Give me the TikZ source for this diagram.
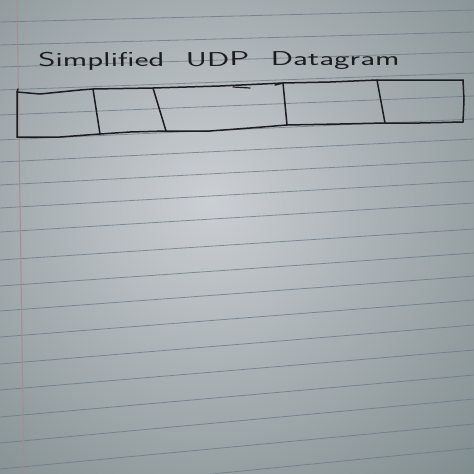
\documentclass[tikz,border=0pt]{standalone}
\usetikzlibrary{positioning}
\definecolor{paperhi}{RGB}{204,207,211}
\definecolor{paperlo}{RGB}{118,132,134}
\definecolor{rule}{RGB}{105,120,132}
\definecolor{margin}{RGB}{170,138,146}
\definecolor{pen}{RGB}{28,28,32}
\tikzset{
  ruling/.style={rule,line width=0.8pt,opacity=0.75},
  penline/.style={pen,line width=1.5pt,line cap=round,line join=round},
  title/.style={pen,font=\sffamily\fontsize{20}{24}\selectfont,xscale=1.65,anchor=base west,inner sep=0pt}
}
\begin{document}
\begin{tikzpicture}[x=1pt,y=-1pt]
	\useasboundingbox (0,0) rectangle (474,474);
	% paper
	\begin{scope}
	\clip (0,0) rectangle (474,474);
	\fill[paperlo] (0,0) rectangle (474,474);
	\shade[inner color=paperhi,outer color=paperlo] (210,200) circle (430);
	\foreach \yl/\yr in {22/10,45/32,67/52,90/73,115/96,140/119,162/139,185/160,208/181,232/203,260/229,286/253,311/276,337/300,364/325,390/350,417/375,443/399,469/424,495/448}
		\draw[ruling] (0,\yl) -- (474,\yr);
	\draw[margin,line width=1pt] (17,0) -- (24,474);
	\end{scope}
	% title
	\node[title,rotate=0.5] (ttl) at (38,67) {Simplified\hspace{0.65em}UDP\hspace{0.65em}Datagram};
	% datagram box
	\coordinate (tl) at (17,92);
	\coordinate (bl) at (17,137);
	\coordinate (tr) at (463,80);
	\coordinate (br) at (463,122);
	\coordinate (t1) at (93,89);
	\coordinate (b1) at (100,134);
	\coordinate (t2) at (153,88);
	\coordinate (b2) at (166,131);
	\coordinate (t3) at (283,83);
	\coordinate (b3) at (287,125);
	\coordinate (t4) at (377,80);
	\coordinate (b4) at (385,123);
	\draw[penline] (tl) -- (40,94) -- (80,90) -- (t1) -- (t2) -- (220,86) -- (t3) -- (330,82) -- (t4) -- (tr);
	\draw[penline] (bl) -- (60,137) -- (b1) -- (130,132) -- (b2) -- (210,131) -- (250,128) -- (b3) -- (340,124) -- (b4) -- (420,123) -- (br);
	\draw[penline] (18,89) -- (tl) -- (bl);
	\draw[penline] (tr) -- (464,100) -- (br);
	\foreach \i in {1,...,4}
		\draw[penline] (t\i) -- (b\i);
	\draw[penline] (275,85) -- (t3);
	\draw[penline,line width=1.2pt] (233,87) -- (250,88);
\end{tikzpicture}
\end{document}
